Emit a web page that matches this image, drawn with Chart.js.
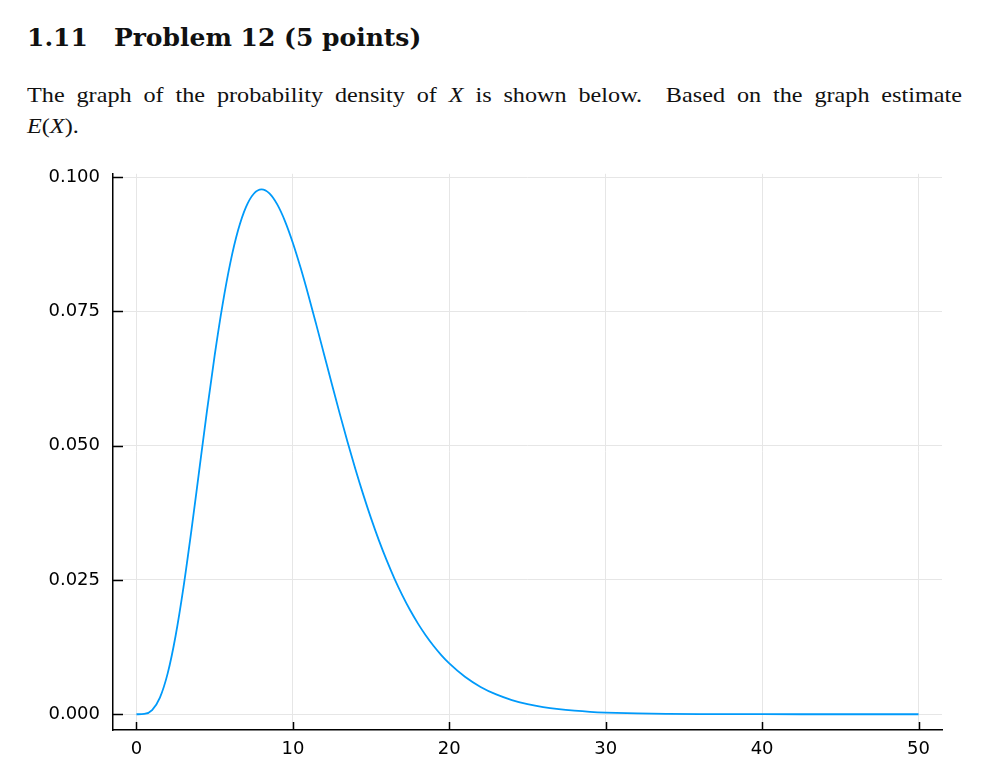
<!DOCTYPE html>
<html>
<head>
<meta charset="utf-8">
<style>
  html, body { margin: 0; padding: 0; background: #fff; }
  body { width: 993px; height: 783px; position: relative; overflow: hidden; color: #111; }
  #head { position: absolute; left: 27px; top: 25px; margin: 0; font: bold 25px/25px "DejaVu Serif", serif; white-space: nowrap; }
  #head .gap { display: inline-block; width: 26px; }
  .para { position: absolute; left: 27px; width: 850px; font: 22px/31px "Liberation Serif", serif; transform: scaleX(1.1); transform-origin: 0 0; }
  #l1 { top: 79px; text-align: justify; text-align-last: justify; }
  #l2 { top: 110px; }
  #wrap { position: absolute; left: 0; top: 150px; width: 993px; height: 633px; }
</style>
</head>
<body>
<h1 id="head">1.11<span class="gap"></span>Problem 12 (5 points)</h1>
<div class="para" id="l1">The graph of the probability density of <i>X</i> is shown below.&nbsp; Based on the graph estimate</div>
<div class="para" id="l2"><i>E</i>(<i>X</i>).</div>
<div id="wrap"><canvas id="myChart"></canvas></div>

<script src="https://cdn.jsdelivr.net/npm/chart.js"></script>
<script>
// values
var xValues = [0, 0.5, 1, 1.5, 2, 2.5, 3, 3.5, 4, 4.5, 5, 5.5, 6, 6.5, 7, 7.5, 8, 8.5, 9, 9.5,
  10, 10.5, 11, 11.5, 12, 12.5, 13, 13.5, 14, 14.5, 15, 15.5, 16, 16.5, 17, 17.5, 18, 18.5, 19, 19.5,
  20, 21, 22, 23, 24, 25, 26, 27, 28, 29, 30, 32, 34, 36, 38, 40, 45, 50];
var density = [0, 0.00006, 0.00079, 0.00311, 0.00766, 0.01457, 0.02353, 0.03395, 0.04511, 0.05628,
  0.06680, 0.07617, 0.08402, 0.09012, 0.09440, 0.09689, 0.09770, 0.09695, 0.09490, 0.09176,
  0.08773, 0.08305, 0.07791, 0.07248, 0.06693, 0.06137, 0.05591, 0.05064, 0.04561, 0.04088,
  0.03646, 0.03237, 0.02863, 0.02521, 0.02213, 0.01935, 0.01687, 0.01466, 0.01270, 0.01097,
  0.00946, 0.00697, 0.00509, 0.00369, 0.00265, 0.00190, 0.00134, 0.00095, 0.00067, 0.00046,
  0.00032, 0.00015, 0.00007, 0.00003, 0.00001, 0.00001, 0, 0];
var xTicks = [0, 10, 20, 30, 40, 50];
var yTicks = [0, 0.025, 0.05, 0.075, 0.1];
var yTickLabels = ['0.000', '0.025', '0.050', '0.075', '0.100'];

var points = [];
for (var i = 0; i < xValues.length; i++) {
  points.push({ x: xValues[i], y: density[i] });
}

// ticks pointing into the plot, like the original
var innerTicks = {
  id: 'innerTicks',
  afterDraw: function (chart) {
    var ctx = chart.ctx, a = chart.chartArea;
    var xs = chart.scales.x, ys = chart.scales.y;
    ctx.save();
    ctx.strokeStyle = '#000';
    ctx.lineWidth = 1.5;
    ctx.beginPath();
    xTicks.forEach(function (v) {
      var px = Math.round(xs.getPixelForValue(v)) + 0.5;
      ctx.moveTo(px, a.bottom);
      ctx.lineTo(px, a.bottom - 8);
    });
    yTicks.forEach(function (v) {
      var py = Math.round(ys.getPixelForValue(v)) + 0.5;
      ctx.moveTo(a.left, py);
      ctx.lineTo(a.left + 10, py);
    });
    ctx.stroke();
    ctx.restore();
  }
};

new Chart(document.getElementById('myChart'), {
  type: 'line',
  data: {
    datasets: [{
      data: points,
      borderColor: '#009AFA',
      borderWidth: 1.8,
      pointRadius: 0,
      cubicInterpolationMode: 'monotone',
      fill: false
    }]
  },
  options: {
    responsive: true,
    maintainAspectRatio: false,
    animation: false,
    layout: { padding: { top: 21, right: 51, left: 0, bottom: 0 } },
    plugins: { legend: { display: false }, tooltip: { enabled: false } },
    scales: {
      x: {
        type: 'linear',
        min: -1.5,
        max: 51.5,
        afterBuildTicks: function (s) { s.ticks = xTicks.map(function (v) { return { value: v }; }); },
        afterFit: function (s) { s.height = 53; },
        grid: { color: '#e6e6e6', lineWidth: 1, drawTicks: false },
        border: { display: true, color: '#000', width: 1.5 },
        ticks: { color: '#000', padding: 9, maxRotation: 0, font: { family: 'DejaVu Sans', size: 18 } }
      },
      y: {
        type: 'linear',
        min: -0.00293,
        max: 0.1006,
        afterBuildTicks: function (s) { s.ticks = yTicks.map(function (v) { return { value: v }; }); },
        afterFit: function (s) { s.width = 113; },
        grid: { color: '#e6e6e6', lineWidth: 1, drawTicks: false },
        border: { display: true, color: '#000', width: 1.5 },
        ticks: {
          color: '#000', padding: 13, font: { family: 'DejaVu Sans', size: 18 },
          callback: function (v, idx) { return yTickLabels[idx]; }
        }
      }
    }
  },
  plugins: [innerTicks]
});
</script>
</body>
</html>
